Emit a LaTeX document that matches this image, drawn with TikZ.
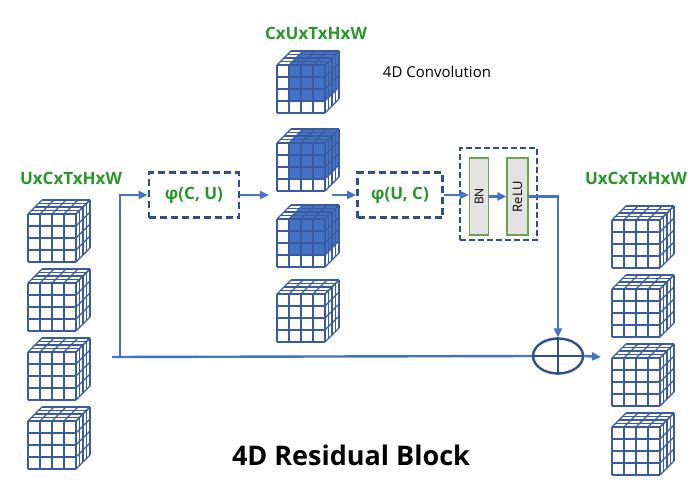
\documentclass[tikz,border=0pt]{standalone}
\usepackage{fontspec}
\setmainfont{Open Sans}
\usetikzlibrary{arrows.meta,shapes.geometric}
\definecolor{edge}{HTML}{3A5BA0}
\definecolor{cb}{HTML}{4472C4}
\definecolor{arr}{HTML}{4472C4}
\definecolor{dk}{HTML}{2F4F8F}
\definecolor{gr}{HTML}{2A962A}
\definecolor{bnfill}{HTML}{E3E3E3}
\definecolor{bnedge}{HTML}{70A050}
\newcommand\mycube[3]{%
\begin{scope}[shift={(#1,#2)}]
\fill[white] (0,0)--(48,0)--(62,-14)--(62,34)--(48,48)--(0,48)--(0,0)--(14,-14)--(62,-14)--cycle;
\ifnum#3=1
\fill[cb] (12,0) rectangle (48,36);
\fill[cb] (12,0)--(48,0)--(62,-14)--(26,-14)--cycle;
\fill[cb] (48,0)--(62,-14)--(62,22)--(48,36)--cycle;
\fi
\begin{scope}[draw=edge,line width=1.1pt,line join=round]
\foreach \i in {0,...,4}{
\draw (12*\i,0)--(12*\i,48);
\draw (0,12*\i)--(48,12*\i);
\draw (12*\i,0)--++(14,-14);
\draw (3.5*\i,-3.5*\i)--++(48,0);
\draw (48,12*\i)--++(14,-14);
\draw (48+3.5*\i,-3.5*\i)--++(0,48);
}
\end{scope}
\end{scope}}
\begin{document}
\begin{tikzpicture}[x=1pt,y=-1pt,
 lbl/.style={text=gr,font=\fontsize{17}{17}\selectfont\bfseries},
 fbox/.style={draw=dk,dashed,dash pattern=on 7pt off 4pt,line width=2.6pt,text=gr,font=\fontsize{17}{17}\selectfont\bfseries,minimum width=90pt,minimum height=45pt,inner sep=0pt},
 conn/.style={draw=arr,line width=2.4pt,-{Triangle[length=9pt,width=8pt]}},
 ln/.style={draw=arr,line width=2.4pt},
 bar/.style={draw=bnedge,fill=bnfill,line width=1.2pt,minimum width=19pt,minimum height=77pt,inner sep=0pt}]
\useasboundingbox (0,0) rectangle (698,495);
% cubes
\foreach \y in {214,283,352,421}{\mycube{28}{\y}{0}}
\foreach \y in {220,289,358,427}{\mycube{612}{\y}{0}}
\mycube{277}{65}{1}
\mycube{277}{143}{1}
\mycube{277}{219}{1}
\mycube{277}{294}{0}
% labels
\node[lbl] (l1) at (71,178) {UxCxTxHxW};
\node[lbl] (l2) at (636,178) {UxCxTxHxW};
\node[lbl] (l3) at (316,33) {CxUxTxHxW};
\node[font=\fontsize{15}{15}\selectfont] (conv) at (437,72) {4D Convolution};
\node[font=\fontsize{27}{27}\selectfont\bfseries] (title) at (351,455) {4D Residual Block};
% boxes
\node[fbox] (p1) at (194,195) {φ(C, U)};
\node[fbox,minimum width=85pt] (p2) at (400,195) {φ(U, C)};
\node[draw=dk,dashed,line width=1.2pt,dash pattern=on 6pt off 3pt,minimum width=77pt,minimum height=92pt] (grp) at (498.5,194) {};
\node[bar] (bn) at (479,196.5) {};
\node[rotate=90,font=\fontsize{12}{12}\selectfont] at (bn) {BN};
\node[bar,minimum width=21pt] (relu) at (517.5,196.5) {};
\node[rotate=90,font=\fontsize{13}{13}\selectfont] at (relu) {ReLU};
\node[draw=dk,line width=2.4pt,ellipse,minimum width=50pt,minimum height=35pt,inner sep=0pt] (sum) at (558,356) {};
\draw[dk,line width=2.4pt] (sum.north)--(sum.south) (sum.west)--(sum.east);
% coordinates
\coordinate (s0) at (112,357);
\coordinate (s1) at (120,357);
\coordinate (out) at (601,357);
\coordinate (c3in) at (269,195);
\coordinate (c3out) at (332,195);
% connectors
\draw[ln] (s0)--(sum.west);
\draw[conn] (sum.east)--(out);
\draw[conn] (s1)|-(p1.west);
\draw[conn] (p1.east)--(c3in);
\draw[conn] (c3out)--(p2.west);
\draw[conn] (p2.east)--(bn.west|-p2.east);
\draw[conn] (bn.east)--(relu.west);
\draw[conn] (relu.east)-|(sum.north);
\end{tikzpicture}
\end{document}
